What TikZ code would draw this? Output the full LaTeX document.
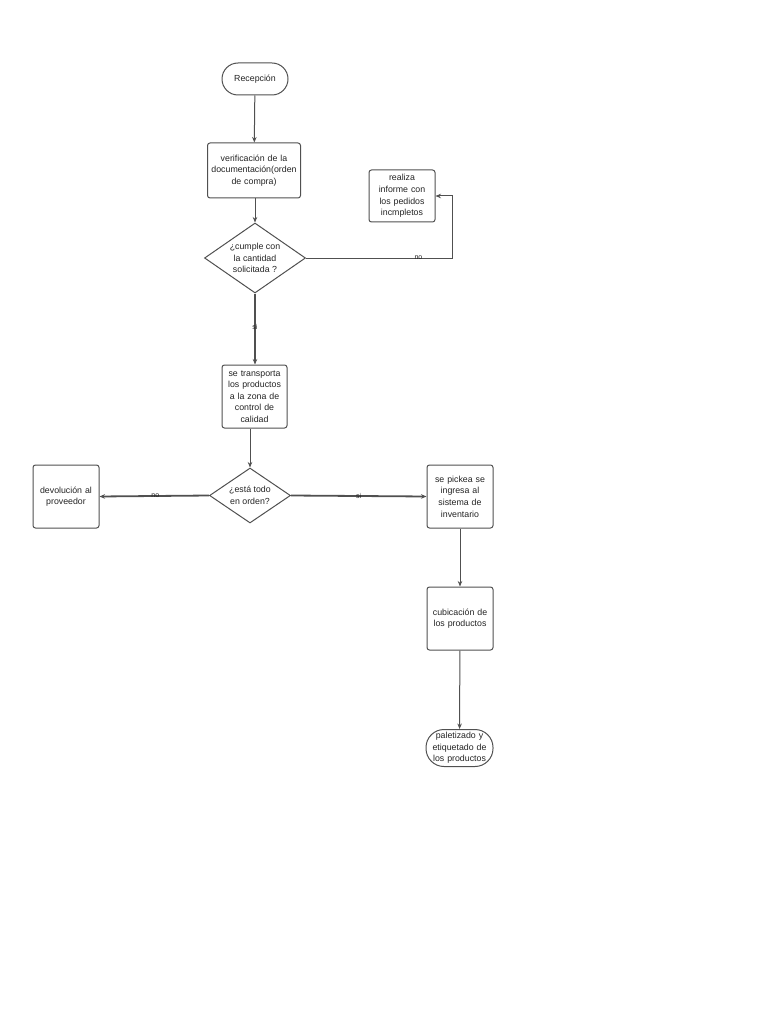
\documentclass[tikz,border=0pt]{standalone}
\usepackage{fontspec}
\setmainfont{Liberation Sans}
\usetikzlibrary{shapes.geometric,arrows.meta}
\definecolor{lineagris}{RGB}{80,80,80}
\definecolor{textogris}{RGB}{35,35,35}

\begin{document}
\begin{tikzpicture}[x=1pt,y=-1pt,
    caja/.style={draw=lineagris, line width=1pt, rounded corners=2.5pt, align=center,
        inner sep=0pt, text=textogris, font=\fontsize{8.8}{11.6}\selectfont},
    inicio/.style={caja, rounded corners=16pt},
    decision/.style={draw=lineagris, line width=1pt, diamond, align=center, inner sep=0pt,
        text=textogris, font=\fontsize{8.8}{11.6}\selectfont},
    flecha/.style={draw=lineagris, line width=1pt, -{Stealth[length=5.5pt,width=4.5pt]}},
    gruesa/.style={flecha, line width=1.8pt},
    etiqueta/.style={font=\fontsize{7}{8}\selectfont, text=textogris, inner sep=0pt}]
\useasboundingbox (0,0) rectangle (768,1024);

% Columna central
\node[inicio, text width=66pt, minimum height=32pt] (recep) at (255,79) {Recepción};
\node[caja, text width=93pt, minimum height=55pt] (verif) at (254,170.5)
    {verificación de la\\documentación(orden\\de compra)};
\node[decision, aspect=1.44, minimum width=101pt, minimum height=70pt] (cumple) at (255,258)
    {¿cumple con\\la cantidad\\solicitada ?};
\node[caja, text width=66pt, minimum height=52pt] (informe) at (402,196)
    {realiza\\informe con\\los pedidos\\incmpletos};
\node[caja, text width=65pt, minimum height=63pt] (transporte) at (254.5,396.5)
    {se transporta\\los productos\\a la zona de\\control de\\calidad};
\node[decision, aspect=1.47, minimum width=81pt, minimum height=55pt] (orden) at (250,495.5)
    {¿está todo\\en orden?};

% Ramas
\node[caja, text width=66pt, minimum height=63pt] (devol) at (66,496.5)
    {devolución al\\proveedor\\[4pt]};
\node[caja, text width=66pt, minimum height=63pt] (pickea) at (460,496.5)
    {se pickea se\\ingresa al\\sistema de\\inventario};
\node[caja, text width=66pt, minimum height=63pt] (cubic) at (460,618.5)
    {cubicación de\\los productos};
\node[inicio, rounded corners=18pt, text width=67pt, minimum height=37pt] (palet) at (459.5,748)
    {paletizado y\\etiquetado de\\los productos};

\coordinate (esq) at (452,258);

% Conectores
\draw[flecha] (recep) -- (verif);
\draw[flecha] (verif.south -| cumple.north) -- (cumple.north);
\draw[flecha] (cumple.east) -- node[etiqueta, pos=0.77] {no} (esq) |- (informe.east);
\draw[gruesa] (cumple.south) -- node[etiqueta, pos=0.47] {si} (cumple.south |- transporte.north);
\draw[flecha] (transporte.south -| orden.north) -- (orden.north);
\draw[gruesa] (orden.west) -- node[etiqueta, pos=0.49] {no} (devol.east);
\draw[gruesa] (orden.east) -- node[etiqueta, pos=0.5] {si} (pickea.west);
\draw[flecha] (pickea) -- (cubic);
\draw[flecha] (cubic) -- (palet);
\end{tikzpicture}
\end{document}
